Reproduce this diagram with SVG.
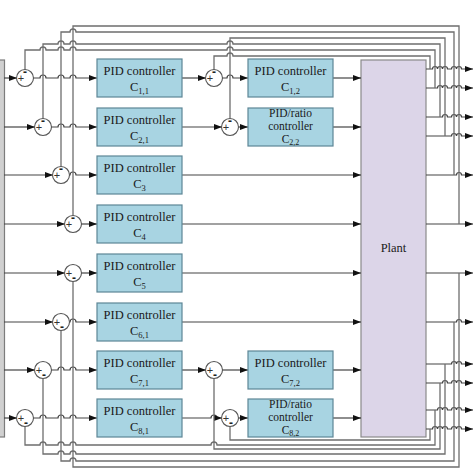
<svg xmlns="http://www.w3.org/2000/svg" width="474" height="474" viewBox="0 0 474 474">
<style>
.ln{fill:none;stroke:#444;stroke-width:1.2}
.fb{fill:none;stroke:#6e6e6e;stroke-width:1.3}
.box{fill:#a8d4e2;stroke:#5d8696;stroke-width:1.2}
.sum{fill:#fff;stroke:#555;stroke-width:1.1}
.t{font-family:"Liberation Serif","Times New Roman",serif;font-size:12.5px;fill:#1a1a1a;text-anchor:middle}
.t3{font-family:"Liberation Serif","Times New Roman",serif;font-size:11.5px;fill:#1a1a1a;text-anchor:middle}
.s{font-family:"Liberation Sans",Arial,sans-serif;font-size:11px;fill:#333;text-anchor:middle}
.m{font-family:"Liberation Sans",Arial,sans-serif;font-size:12px;font-weight:bold;fill:#222;text-anchor:middle}
</style>
<defs>
<marker id="ar" markerUnits="userSpaceOnUse" markerWidth="8" markerHeight="6" refX="8" refY="3" orient="auto"><path d="M0,0 L8,3 L0,6 z" fill="#111"/></marker>
</defs>
<rect width="474" height="474" fill="#fff"/>

<g id="input">
<rect x="-5" y="60" width="9.5" height="377" fill="#d0d0d0" stroke="#7c7c7c" stroke-width="1.2"/>
</g>

<g id="plant">
<rect x="361" y="60" width="65" height="377" fill="#dcd5e8" stroke="#8a8a8a" stroke-width="1.2"/>
<text class="t" x="393.5" y="252">Plant</text>
</g>

<g id="connectors">
<g class="ln" marker-end="url(#ar)">
<path d="M4 78 H17"/><path d="M4 127 H35"/><path d="M4 175 H53"/><path d="M4 224 H65"/>
<path d="M4 273 H65"/><path d="M4 322 H53"/><path d="M4 370 H35"/><path d="M4 418 H17"/>
<path d="M33 78 H40 a3 3 0 0 1 6 0 H58 a3 3 0 0 1 6 0 H70 a3 3 0 0 1 6 0 H97"/>
<path d="M51 127 H58 a3 3 0 0 1 6 0 H70 a3 3 0 0 1 6 0 H97"/>
<path d="M69 175 H70 a3 3 0 0 1 6 0 H97"/>
<path d="M81 224 H97"/><path d="M81 273 H97"/>
<path d="M69 322 H70 a3 3 0 0 1 6 0 H97"/>
<path d="M51 370 H58 a3 3 0 0 1 6 0 H70 a3 3 0 0 1 6 0 H97"/>
<path d="M33 418 H40 a3 3 0 0 1 6 0 H58 a3 3 0 0 1 6 0 H70 a3 3 0 0 1 6 0 H97"/>
<path d="M182 78 H206"/><path d="M182 127 H222"/><path d="M182 370 H206"/>
<path d="M182 418 H211 a3 3 0 0 1 6 0 H222"/>
<path d="M222 78 H227 a3 3 0 0 1 6 0 H248"/><path d="M238 127 H248"/>
<path d="M222 370 H248"/><path d="M238 418 H248"/>
<path d="M333 78 H361"/><path d="M333 127 H361"/><path d="M182 175 H361"/><path d="M182 224 H361"/>
<path d="M182 273 H361"/><path d="M182 322 H361"/><path d="M333 370 H361"/><path d="M333 418 H361"/>
<path d="M426 69 H432.5 a2.5 2.5 0 0 1 5 0 H437.5 a2.5 2.5 0 0 1 5 0 H442.5 a2.5 2.5 0 0 1 5 0 H451.5 a2.5 2.5 0 0 1 5 0 H456.5 a2.5 2.5 0 0 1 5 0 H473"/>
<path d="M426 88 H437.5 a2.5 2.5 0 0 1 5 0 H442.5 a2.5 2.5 0 0 1 5 0 H451.5 a2.5 2.5 0 0 1 5 0 H456.5 a2.5 2.5 0 0 1 5 0 H473"/>
<path d="M426 117 H442.5 a2.5 2.5 0 0 1 5 0 H451.5 a2.5 2.5 0 0 1 5 0 H456.5 a2.5 2.5 0 0 1 5 0 H473"/>
<path d="M426 136 H451.5 a2.5 2.5 0 0 1 5 0 H456.5 a2.5 2.5 0 0 1 5 0 H473"/>
<path d="M426 175 H456.5 a2.5 2.5 0 0 1 5 0 H473"/>
<path d="M426 224 H473"/><path d="M426 273 H473"/>
<path d="M426 322 H456.5 a2.5 2.5 0 0 1 5 0 H473"/>
<path d="M426 364 H451.5 a2.5 2.5 0 0 1 5 0 H456.5 a2.5 2.5 0 0 1 5 0 H473"/>
<path d="M426 383 H442.5 a2.5 2.5 0 0 1 5 0 H451.5 a2.5 2.5 0 0 1 5 0 H456.5 a2.5 2.5 0 0 1 5 0 H473"/>
<path d="M426 410 H437.5 a2.5 2.5 0 0 1 5 0 H442.5 a2.5 2.5 0 0 1 5 0 H451.5 a2.5 2.5 0 0 1 5 0 H456.5 a2.5 2.5 0 0 1 5 0 H473"/>
<path d="M426 429 H432.5 a2.5 2.5 0 0 1 5 0 H437.5 a2.5 2.5 0 0 1 5 0 H442.5 a2.5 2.5 0 0 1 5 0 H451.5 a2.5 2.5 0 0 1 5 0 H456.5 a2.5 2.5 0 0 1 5 0 H473"/>
</g>
<g class="fb">
<path d="M25 69.5 V50 H40 a3 3 0 0 1 6 0 H58 a3 3 0 0 1 6 0 H70 a3 3 0 0 1 6 0 H227 a3 3 0 0 1 6 0 H435 V88"/>
<path d="M43 118.5 V44 H58 a3 3 0 0 1 6 0 H70 a3 3 0 0 1 6 0 H227 a3 3 0 0 1 6 0 H440 V117"/>
<path d="M61 166.5 V32 H70 a3 3 0 0 1 6 0 H454 V175"/>
<path d="M73 215.5 V26 H459 V224"/>
<path d="M214 69.5 V56 H227 a3 3 0 0 1 6 0 H430 V69"/>
<path d="M230 118.5 V38 H445 V136"/>
<path d="M25 426.5 V445 H40 a3 3 0 0 1 6 0 H58 a3 3 0 0 1 6 0 H70 a3 3 0 0 1 6 0 H211 a3 3 0 0 1 6 0 H435 V410"/>
<path d="M43 378.5 V454 H58 a3 3 0 0 1 6 0 H70 a3 3 0 0 1 6 0 H445 V364"/>
<path d="M61 330.5 V461 H70 a3 3 0 0 1 6 0 H454 V322"/>
<path d="M73 281.5 V467 H459 V273"/>
<path d="M214 378.5 V449 H440 V383"/>
<path d="M230 426.5 V440 H430 V429"/>
</g>
</g>

<g id="J11"><circle class="sum" cx="25" cy="78" r="8.5"/><text class="s" x="21" y="82">+</text><text class="m" x="25" y="76">-</text></g>
<g id="J21"><circle class="sum" cx="43" cy="127" r="8.5"/><text class="s" x="39" y="131">+</text><text class="m" x="43" y="125">-</text></g>
<g id="J3"><circle class="sum" cx="61" cy="175" r="8.5"/><text class="s" x="57" y="179">+</text><text class="m" x="61" y="173">-</text></g>
<g id="J4"><circle class="sum" cx="73" cy="224" r="8.5"/><text class="s" x="69" y="228">+</text><text class="m" x="73" y="222">-</text></g>
<g id="J5"><circle class="sum" cx="73" cy="273" r="8.5"/><text class="s" x="69" y="277">+</text><text class="m" x="74" y="282">-</text></g>
<g id="J6"><circle class="sum" cx="61" cy="322" r="8.5"/><text class="s" x="57" y="326">+</text><text class="m" x="62" y="331">-</text></g>
<g id="J71"><circle class="sum" cx="43" cy="370" r="8.5"/><text class="s" x="39" y="374">+</text><text class="m" x="44" y="379">-</text></g>
<g id="J81"><circle class="sum" cx="25" cy="418" r="8.5"/><text class="s" x="21" y="422">+</text><text class="m" x="26" y="427">-</text></g>
<g id="J12"><circle class="sum" cx="214" cy="78" r="8.5"/><text class="s" x="210" y="82">+</text><text class="m" x="214" y="76">-</text></g>
<g id="J22"><circle class="sum" cx="230" cy="127" r="8.5"/><text class="s" x="226" y="131">+</text><text class="m" x="230" y="125">-</text></g>
<g id="J72"><circle class="sum" cx="214" cy="370" r="8.5"/><text class="s" x="210" y="374">+</text><text class="m" x="215" y="379">-</text></g>
<g id="J82"><circle class="sum" cx="230" cy="418" r="8.5"/><text class="s" x="226" y="422">+</text><text class="m" x="231" y="427">-</text></g>

<g id="C11"><rect class="box" x="97" y="59" width="85" height="38"/><text class="t" x="139.5" y="75">PID controller</text><text class="t" x="139.5" y="91">C<tspan font-size="8.5" dy="3">1,1</tspan></text></g>
<g id="C21"><rect class="box" x="97" y="108" width="85" height="38"/><text class="t" x="139.5" y="124">PID controller</text><text class="t" x="139.5" y="140">C<tspan font-size="8.5" dy="3">2,1</tspan></text></g>
<g id="C3"><rect class="box" x="97" y="156" width="85" height="38"/><text class="t" x="139.5" y="172">PID controller</text><text class="t" x="139.5" y="188">C<tspan font-size="8.5" dy="3">3</tspan></text></g>
<g id="C4"><rect class="box" x="97" y="205" width="85" height="38"/><text class="t" x="139.5" y="221">PID controller</text><text class="t" x="139.5" y="237">C<tspan font-size="8.5" dy="3">4</tspan></text></g>
<g id="C5"><rect class="box" x="97" y="254" width="85" height="38"/><text class="t" x="139.5" y="270">PID controller</text><text class="t" x="139.5" y="286">C<tspan font-size="8.5" dy="3">5</tspan></text></g>
<g id="C61"><rect class="box" x="97" y="303" width="85" height="38"/><text class="t" x="139.5" y="319">PID controller</text><text class="t" x="139.5" y="335">C<tspan font-size="8.5" dy="3">6,1</tspan></text></g>
<g id="C71"><rect class="box" x="97" y="351" width="85" height="38"/><text class="t" x="139.5" y="367">PID controller</text><text class="t" x="139.5" y="383">C<tspan font-size="8.5" dy="3">7,1</tspan></text></g>
<g id="C81"><rect class="box" x="97" y="399" width="85" height="38"/><text class="t" x="139.5" y="415">PID controller</text><text class="t" x="139.5" y="431">C<tspan font-size="8.5" dy="3">8,1</tspan></text></g>
<g id="C12"><rect class="box" x="248" y="59" width="85" height="38"/><text class="t" x="290.5" y="75">PID controller</text><text class="t" x="290.5" y="91">C<tspan font-size="8.5" dy="3">1,2</tspan></text></g>
<g id="C22"><rect class="box" x="248" y="108" width="85" height="38"/><text class="t3" x="290.5" y="117">PID/ratio</text><text class="t3" x="290.5" y="130">controller</text><text class="t3" x="290.5" y="143">C<tspan font-size="8" dy="2">2,2</tspan></text></g>
<g id="C72"><rect class="box" x="248" y="351" width="85" height="38"/><text class="t" x="290.5" y="367">PID controller</text><text class="t" x="290.5" y="383">C<tspan font-size="8.5" dy="3">7,2</tspan></text></g>
<g id="C82"><rect class="box" x="248" y="399" width="85" height="38"/><text class="t3" x="290.5" y="408">PID/ratio</text><text class="t3" x="290.5" y="421">controller</text><text class="t3" x="290.5" y="434">C<tspan font-size="8" dy="2">8,2</tspan></text></g>
</svg>
